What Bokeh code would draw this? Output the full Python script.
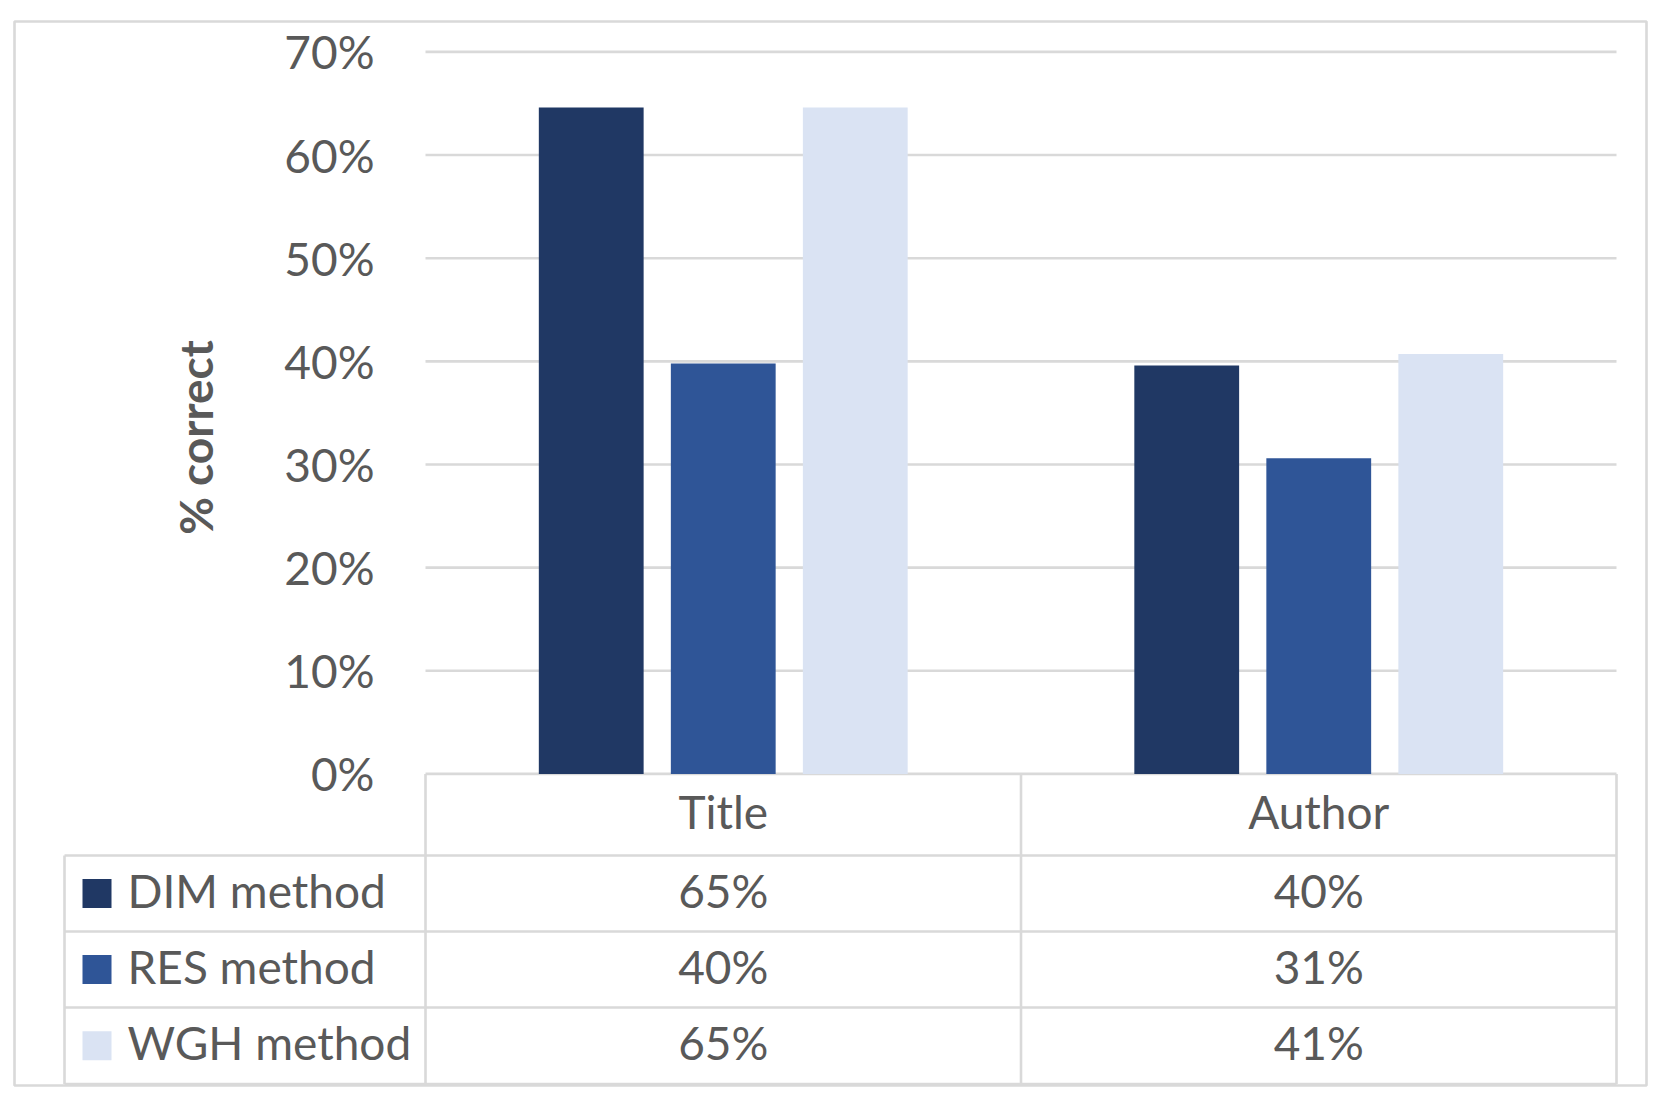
import math
from bokeh.plotting import figure
from bokeh.models import Range1d, FixedTicker, NumeralTickFormatter
from bokeh.core.properties import value
from bokeh.embed import file_html
from bokeh.resources import INLINE

# ---- data ----
categories = ["Title", "Author"]
series_names = ["DIM method", "RES method", "WGH method"]
dim_values = [0.646, 0.396]
res_values = [0.398, 0.306]
wgh_values = [0.646, 0.407]
y_ticks = [0.0, 0.1, 0.2, 0.3, 0.4, 0.5, 0.6, 0.7]
y_axis_title = "% correct"

# ---- style ----
COLORS = ["#203864", "#2F5597", "#DAE3F3"]
GRID = "#D9D9D9"
TXT = "#595959"
FONT = "Lato"
FS = "46px"
LW = 2.6
TXT_DY = -3   # small upward nudge of table text

W, H = 1649, 1091

# layout geometry (canvas pixels) -> data coordinates
PLOT_LEFT = 425.0      # left edge of plot area
CAT_PX = 595.5         # width of one category
ZERO_Y = 773.4         # pixel row of the 0% line
Y_PX = 1031.4          # pixels per 100 %
def xd(X): return (X - PLOT_LEFT) / CAT_PX
def yd(Y): return (ZERO_Y - Y) / Y_PX

p = figure(width=W, height=H,
           x_range=Range1d(xd(0), xd(W)), y_range=Range1d(yd(H), yd(0)),
           output_backend="svg", toolbar_location=None,
           min_border_left=0, min_border_right=0, min_border_top=0, min_border_bottom=0)
p.outline_line_color = None
p.background_fill_color = "white"
p.border_fill_color = "white"
p.xaxis.visible = False
p.xgrid.visible = False
p.ygrid.visible = False

n_cat = len(categories)
cat_x = [i + 0.5 for i in range(n_cat)]

# ---- y axis, pinned to the left edge of the plot area ----
ax = p.yaxis[0]
ax.fixed_location = 0
ax.ticker = FixedTicker(ticks=y_ticks)
ax.formatter = NumeralTickFormatter(format="0%")
ax.axis_line_color = None
ax.major_tick_line_color = None
ax.minor_tick_line_color = None
ax.major_label_standoff = 45
ax.major_label_text_font = FONT
ax.major_label_text_font_size = FS
ax.major_label_text_color = TXT

# horizontal gridlines across the plot area
p.segment(x0=[0] * len(y_ticks), x1=[n_cat] * len(y_ticks), y0=y_ticks, y1=y_ticks,
          line_color=GRID, line_width=LW)

# ---- bars ----
offsets = [-0.2217, 0.0, 0.2217]
for vals, off, col in zip([dim_values, res_values, wgh_values], offsets, COLORS):
    p.vbar(x=[c + off for c in cat_x], top=vals, bottom=0, width=0.176,
           fill_color=col, line_color=None)

# ---- data table ----
hdr_bottom = 855.0
row_lines = [855.0, 931.0, 1007.0, 1083.5]
legend_left = 64.0

# horizontal table lines (left column + value columns)
p.segment(x0=[xd(legend_left)] * len(row_lines), x1=[n_cat] * len(row_lines),
          y0=[yd(Y) for Y in row_lines], y1=[yd(Y) for Y in row_lines],
          line_color=GRID, line_width=LW)
# vertical table lines
vx = [float(i) for i in range(n_cat + 1)]
p.segment(x0=vx, x1=vx, y0=[0] * len(vx), y1=[yd(row_lines[-1])] * len(vx),
          line_color=GRID, line_width=LW)
p.segment(x0=[xd(legend_left)], x1=[xd(legend_left)], y0=[yd(hdr_bottom)],
          y1=[yd(row_lines[-1])], line_color=GRID, line_width=LW)

# header (category names)
hdr_y = yd((ZERO_Y + hdr_bottom) / 2)
p.text(x=cat_x, y=[hdr_y] * n_cat, text=categories, y_offset=TXT_DY,
       text_font=value(FONT), text_font_size=FS, text_color=TXT,
       text_align="center", text_baseline="middle")

row_centers = [yd((a + b) / 2) for a, b in zip(row_lines[:-1], row_lines[1:])]
for vals, yc in zip([dim_values, res_values, wgh_values], row_centers):
    p.text(x=cat_x, y=[yc] * n_cat, text=[f"{v:.0%}" for v in vals], y_offset=TXT_DY,
           text_font=value(FONT), text_font_size=FS, text_color=TXT,
           text_align="center", text_baseline="middle")

# legend keys + names
p.scatter(x=[xd(96.5)] * len(series_names), y=row_centers, marker="square", size=29,
          fill_color=COLORS, line_color=None)
p.text(x=[xd(127)] * len(series_names), y=row_centers, text=series_names, y_offset=TXT_DY,
       text_font=value(FONT), text_font_size=FS, text_color=TXT,
       text_align="left", text_baseline="middle")

# y-axis title
p.text(x=[xd(195)], y=[yd(437)], text=[y_axis_title], angle=math.pi / 2,
       text_font=value(FONT), text_font_size=FS, text_font_style="bold",
       text_color=TXT, text_align="center", text_baseline="middle")

# outer chart border
p.quad(left=[xd(14)], right=[xd(1646)], top=[yd(21)], bottom=[yd(1085)],
       fill_color=None, line_color=GRID, line_width=LW)

open("out.html", "w").write(file_html(p, INLINE))
